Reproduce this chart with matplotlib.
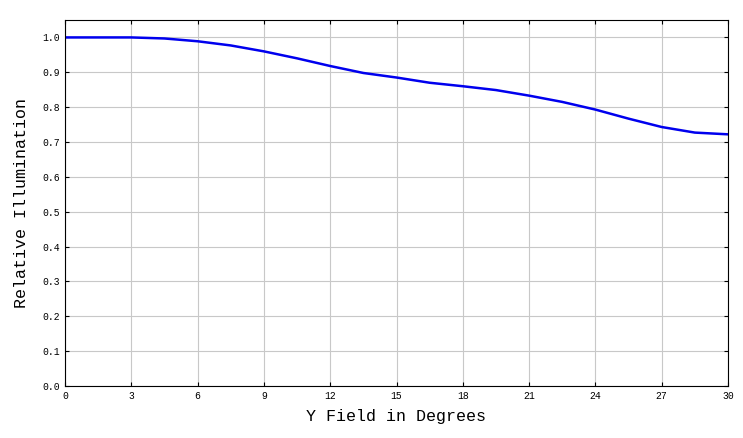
import matplotlib
matplotlib.use("Agg")
import matplotlib.pyplot as plt
import numpy as np

# values
field_deg = [0, 1.5, 3, 4.5, 6, 7.5, 9, 10.5, 12, 13.5, 15, 16.5, 18, 19.5, 21, 22.5, 24, 25.5, 27, 28.5, 30]
rel_illum = [1.0, 1.0, 1.0, 0.997, 0.989, 0.977, 0.960, 0.940, 0.918, 0.898, 0.885, 0.870, 0.860, 0.849, 0.833, 0.815, 0.793, 0.767, 0.743, 0.727, 0.722]
x_ticks = list(range(0, 31, 3))
y_ticks = [round(0.1 * i, 1) for i in range(11)]

W, H = 743, 438
fig = plt.figure(figsize=(W / 100, H / 100), dpi=100)
ax = fig.add_axes([65 / W, (H - 386) / H, 663 / W, 366 / H])

ax.plot(field_deg, rel_illum, color="#0000ee", lw=1.8)
ax.set_xlim(0, 30)
ax.set_ylim(0, 1.05)
ax.set_xticks(x_ticks)
ax.set_yticks(y_ticks)
ax.set_yticklabels([f"{v:.1f}" for v in y_ticks])
ax.grid(True, color="#c8c8c8", lw=0.8)
ax.tick_params(labelsize=7, length=3, direction="in", top=True, right=True)
for lab in ax.get_xticklabels() + ax.get_yticklabels():
    lab.set_fontfamily("Liberation Mono")
for s in ax.spines.values():
    s.set_linewidth(0.8)

ax.set_xlabel("Y Field in Degrees", fontfamily="Liberation Mono", fontsize=12, labelpad=6)
ax.set_ylabel("Relative Illumination", fontfamily="Liberation Mono", fontsize=12, labelpad=10)

fig.savefig("out.png", dpi=100)
